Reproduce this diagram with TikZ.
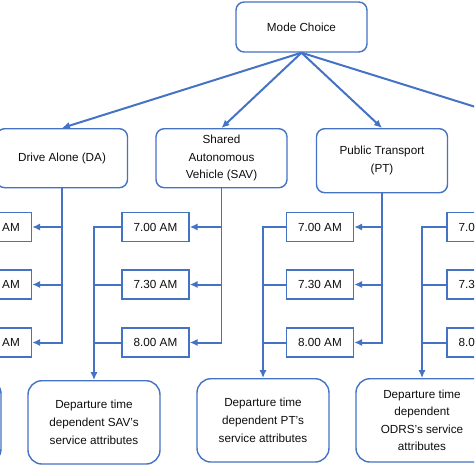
\documentclass[tikz,border=0pt]{standalone}
\usepackage{fontspec}
\setmainfont{Liberation Sans}
\usepackage{tikz}
\usetikzlibrary{arrows.meta}
\definecolor{boxblue}{HTML}{4472C4}
\tikzset{
  % rounded boxes for the modes
  modebox/.style={draw=boxblue, line width=1.2pt, rounded corners=7pt, align=center,
    minimum width=3.93cm, minimum height=1.77cm, font=\fontsize{10}{15}\selectfont, text=black!95},
  % square boxes for the departure times
  timebox/.style={draw=boxblue, line width=1.2pt, minimum width=2.01cm, minimum height=0.87cm,
    font=\fontsize{10}{12}\selectfont, text=black!95},
  % boxes for the service attributes
  depbox/.style={modebox, rounded corners=12pt, minimum width=3.96cm, minimum height=2.5cm, anchor=north},
  conn/.style={draw=boxblue, line width=1.7pt},
  arr/.style={conn, -{Latex[length=2.4mm,width=2.2mm]}},
}
\begin{document}
\begin{tikzpicture}[x=0.03cm, y=-0.03cm]
  \useasboundingbox (0,0) rectangle (474,474);
  \clip (0,0) rectangle (474,474);
  % Top of the tree
  \node[modebox, minimum height=1.5cm] (choice) at (301.5,27) {Mode Choice};
  % The modes
  \node[modebox, anchor=north] (da) at (62,128) {Drive Alone (DA)};
  \node[modebox, anchor=north] (sav) at (221.5,128) {Shared\\Autonomous\\Vehicle (SAV)};
  \node[modebox, anchor=north, minimum height=1.92cm] (pt) at (382,128) {Public Transport\\(PT)};
  \node[modebox, anchor=north, minimum height=1.92cm] (odrs) at (543,128) {};
  \foreach \mode in {da,sav,pt,odrs}
    \draw[arr] (choice.south) -- (\mode.north);
  % Departure times
  \foreach \col/\tx in {da/-2, sav/155.5, pt/320, odrs/480.5} {
    \node[timebox] (\col-1) at (\tx,227) {7.00 AM};
    \node[timebox] (\col-2) at (\tx,284.5) {7.30 AM};
    \node[timebox] (\col-3) at (\tx,342.5) {8.00 AM};
  }
  % Service attributes
  \node[depbox] (da-dep) at (-65,379) {};
  \node[depbox] (sav-dep) at (94,380) {Departure time\\dependent SAV's\\service attributes};
  \node[depbox] (pt-dep) at (263,378) {Departure time\\dependent PT's\\service attributes};
  \node[depbox] (odrs-dep) at (422,378) {Departure time\\dependent\\ODRS's service\\attributes};
  % Links
  \foreach \col in {da,sav,pt,odrs} {
    \draw[arr] (\col.south) |- (\col-3.east);
    \draw[arr] (\col.south |- \col-1.east) -- (\col-1.east);
    \draw[arr] (\col.south |- \col-2.east) -- (\col-2.east);
    \draw[arr] (\col-1.west) -| (\col-dep.north);
    \draw[conn] (\col-2.west) -- (\col-2.west -| \col-dep.north);
    \draw[conn] (\col-3.west) -- (\col-3.west -| \col-dep.north);
  }
\end{tikzpicture}
\end{document}
